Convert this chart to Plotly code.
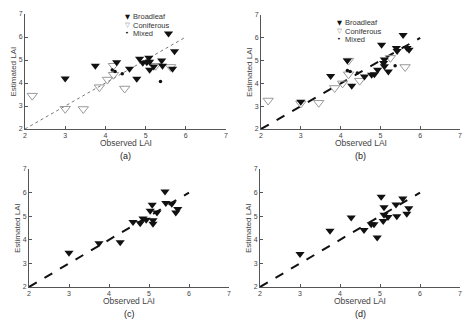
import plotly.graph_objects as go

# ---------------- data ----------------
obs_broad = [3.0, 3.75, 4.28, 4.6, 4.78, 4.85, 4.93, 5.03, 5.08, 5.1, 5.1, 5.2, 5.4, 5.42, 5.57, 5.67, 5.72]
est_broad_a = [4.2, 4.75, 4.9, 4.62, 4.18, 5.05, 4.88, 4.9, 5.1, 4.58, 4.92, 4.72, 4.98, 4.75, 6.15, 4.62, 5.38]
est_broad_b = [3.2, 4.33, 3.9, 4.3, 4.38, 4.4, 4.6, 5.7, 4.9, 4.75, 5.05, 4.52, 5.55, 5.42, 6.12, 5.55, 5.48]
est_broad_c = [3.45, 3.85, 3.9, 4.75, 4.7, 4.9, 4.85, 5.23, 5.49, 4.83, 4.68, 5.16, 6.05, 5.56, 5.53, 5.16, 5.3]
est_broad_d = [3.4, 4.38, 4.94, 4.42, 4.66, 4.66, 4.1, 5.82, 4.8, 5.38, 5.06, 4.97, 5.5, 5.0, 5.75, 5.1, 5.34]

obs_extra_b = [4.17]
est_extra_b = [5.0]

obs_conif = [2.18, 3.0, 3.45, 3.85, 4.05, 4.2, 4.2, 4.48, 5.25, 5.62]
est_conif_a = [3.45, 2.88, 2.87, 3.82, 4.15, 4.36, 4.75, 3.76, 4.75, 4.7]
est_conif_b = [3.25, 3.12, 3.15, 3.8, 4.0, 4.4, 5.0, 4.12, 5.12, 4.72]

obs_mixed = [4.17, 4.24, 4.42, 5.37]
est_mixed_a = [4.57, 4.5, 4.4, 4.07]
est_mixed_b = [4.57, 4.52, 4.46, 4.77]

line_x = [2, 6]
line_y = [2, 6]

ticks = [2, 3, 4, 5, 6, 7]
panel_labels = ["(a)", "(b)", "(c)", "(d)"]
xtitle = "Observed LAI"
ytitle = "Estimated LAI"
legend_names = ["Broadleaf", "Coniferous", "Mixed"]

W, H = 474, 323

def px(x):
    return x / W

def py(y):
    return 1 - y / H

# panel geometry (pixels): x0, x1, ybottom, ytop
panels = [
    (25, 226, 129, 14),
    (261, 460, 129, 15),
    (29, 229, 287, 169),
    (260, 460, 287, 169),
]

fig = go.Figure()
layout = dict(width=W, height=H, margin=dict(l=0, r=0, t=0, b=0, autoexpand=False),
              paper_bgcolor="white", plot_bgcolor="white", showlegend=False)

axis_color = "#555555"
font_family = "Liberation Sans, Arial, sans-serif"

annotations = []

def note(x, y, text, size, color, xanchor="center", angle=0, family=font_family):
    annotations.append(dict(x=px(x), y=py(y), xref="paper", yref="paper", text=text,
                            showarrow=False, xanchor=xanchor, yanchor="middle",
                            textangle=angle, borderpad=0,
                            font=dict(size=size, color=color, family=family)))

for i, (x0, x1, yb, yt) in enumerate(panels):
    n = "" if i == 0 else str(i + 1)
    common = dict(range=[2, 7], tickvals=ticks, ticks="inside", ticklen=3, tickcolor=axis_color,
                  showline=True, linecolor=axis_color, linewidth=1,
                  showgrid=False, zeroline=False, automargin=False,
                  tickfont=dict(size=7, color="#444444", family=font_family))
    layout["xaxis" + n] = dict(domain=[px(x0), px(x1)], anchor="y" + n, **common)
    layout["yaxis" + n] = dict(domain=[py(yb), py(yt)], anchor="x" + n, **common)
    cx = (x0 + x1) / 2
    note(cx, yb + 14, xtitle, 8.5, "#444444")
    note(x0 - 12, (yb + yt) / 2, ytitle, 8, "#444444", angle=-90)
    note(cx, yb + 27, panel_labels[i], 9, "#222222")

fig.update_layout(**layout)

def add(x, y, xa, ya, **kw):
    fig.add_trace(go.Scatter(x=x, y=y, xaxis=xa, yaxis=ya, cliponaxis=False, **kw))

broad_m = dict(symbol="triangle-down", size=8, color="#111111", line=dict(width=0))
conif_m = dict(symbol="triangle-down-open", size=9, color="#9a9a9a", line=dict(width=1))
mixed_m = dict(symbol="circle", size=3.5, color="#111111")

# panel a
add(line_x, line_y, "x", "y", mode="lines", line=dict(color="#777777", width=1, dash="dot"))
add(obs_conif, est_conif_a, "x", "y", mode="markers", marker=conif_m)
add(obs_broad, est_broad_a, "x", "y", mode="markers", marker=broad_m)
add(obs_mixed, est_mixed_a, "x", "y", mode="markers", marker=mixed_m)
# panel b
add(line_x, line_y, "x2", "y2", mode="lines", line=dict(color="#111111", width=2, dash="dash"))
add(obs_conif, est_conif_b, "x2", "y2", mode="markers", marker=conif_m)
add(obs_broad + obs_extra_b, est_broad_b + est_extra_b, "x2", "y2", mode="markers", marker=broad_m)
add(obs_mixed, est_mixed_b, "x2", "y2", mode="markers", marker=mixed_m)
# panel c
add(line_x, line_y, "x3", "y3", mode="lines", line=dict(color="#111111", width=2, dash="dash"))
add(obs_broad, est_broad_c, "x3", "y3", mode="markers", marker=broad_m)
# panel d
add(line_x, line_y, "x4", "y4", mode="lines", line=dict(color="#111111", width=2, dash="dash"))
add(obs_broad, est_broad_d, "x4", "y4", mode="markers", marker=broad_m)

# legends (text annotations with symbol glyphs)
legend_pos = [(127, 16.5), (339, 22.5)]
symbols = ["▼", "▽", "•"]
sym_colors = ["#111111", "#8a8a8a", "#111111"]
for (lx, ly) in legend_pos:
    for k in range(3):
        yk = ly + k * 8.5
        note(lx, yk, symbols[k], 6.5, sym_colors[k], family="DejaVu Sans")
        note(lx + 5, yk, legend_names[k], 7.5, "#333333", xanchor="left")

fig.update_layout(annotations=annotations)
fig.write_html("out.html")
